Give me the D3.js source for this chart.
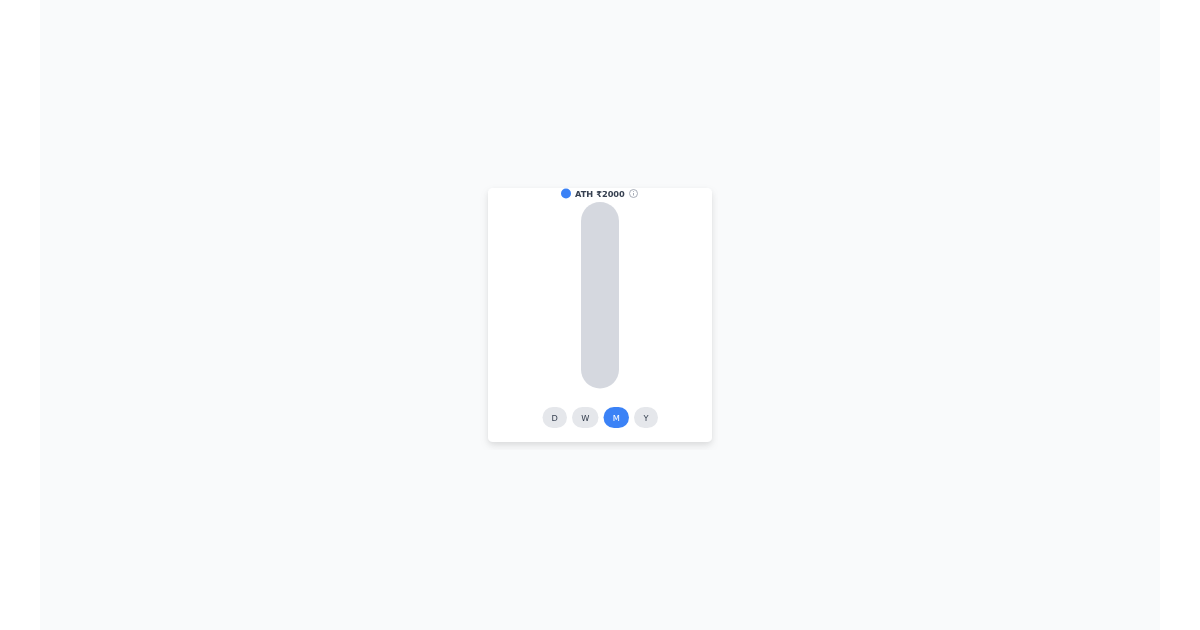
<!DOCTYPE html>
<html><head><meta charset="utf-8">
<script src="https://cdn.jsdelivr.net/npm/d3@7/dist/d3.min.js"></script>
<style>
html,body{margin:0;padding:0;background:#fff;overflow:hidden}
#page{position:absolute;left:40px;top:0;width:1120px;height:630px;background:#f9fafb}
svg{position:absolute;left:0;top:0;will-change:transform}
text{font-family:"DejaVu Sans",sans-serif;text-rendering:geometricPrecision}
</style></head><body><div id="page"></div>
<svg id="c" width="1200" height="630" xmlns="http://www.w3.org/2000/svg"></svg>
<script>
const categories = ["ATH"];
const values = [2000];
const athLabel = "ATH ₹2000";
const periods = ["D","W","M","Y"];
const activePeriod = "M";
const periodWidths = [24.5,26.5,25.5,24];

const svg = d3.select("#c");
const defs = svg.append("defs");
const f = defs.append("filter").attr("id","sh").attr("x","-20%").attr("y","-20%").attr("width","140%").attr("height","140%");
f.append("feDropShadow").attr("dx",0).attr("dy",4).attr("stdDeviation",4).attr("flood-color","#000").attr("flood-opacity",0.08);
const f2 = defs.append("filter").attr("id","sh2").attr("x","-20%").attr("y","-20%").attr("width","140%").attr("height","140%");
f2.append("feDropShadow").attr("dx",0).attr("dy",2).attr("stdDeviation",2).attr("flood-color","#000").attr("flood-opacity",0.05);

const g0 = svg.append("g").attr("filter","url(#sh2)");
g0.append("g").attr("filter","url(#sh)").append("rect")
  .attr("x",488).attr("y",188).attr("width",224).attr("height",254).attr("rx",5).attr("fill","#fff");

const x = d3.scaleBand().domain(categories).range([581,619]);
const y = d3.scaleLinear().domain([0,2000]).range([388.5,202]);
svg.selectAll("rect.bar").data(values).join("rect").attr("class","bar")
  .attr("x",(d,i)=>x(categories[i])).attr("width",x.bandwidth())
  .attr("y",d=>y(d)).attr("height",d=>y(0)-y(d))
  .attr("rx",x.bandwidth()/2).attr("fill","#d5d8df");

svg.append("circle").attr("cx",566).attr("cy",193.5).attr("r",5).attr("fill","#3b82f6");
svg.append("text").attr("x",575).attr("y",197).attr("font-size",8.25).attr("font-weight",700)
  .attr("fill","#374151").text(athLabel);
const ig = svg.append("g").attr("transform","translate(633.5,193.5)");
ig.append("circle").attr("r",4).attr("fill","none").attr("stroke","#9ca3af").attr("stroke-width",0.9);
ig.append("line").attr("x1",0).attr("x2",0).attr("y1",-0.5).attr("y2",2).attr("stroke","#9ca3af").attr("stroke-width",0.9);
ig.append("circle").attr("cy",-2).attr("r",0.5).attr("fill","#9ca3af");

let bx = 542.5;
const gap = 5;
periods.forEach((p,i)=>{
  const w = periodWidths[i];
  const on = p===activePeriod;
  svg.append("rect").attr("x",bx).attr("y",407).attr("width",w).attr("height",21).attr("rx",10.5)
    .attr("fill",on?"#3b82f6":"#e5e7eb");
  svg.append("text").attr("x",bx+w/2).attr("y",421).attr("text-anchor","middle").attr("font-size",8.25)
    .attr("fill",on?"#fff":"#374151").text(p);
  bx += w+gap;
});
</script></body></html>
